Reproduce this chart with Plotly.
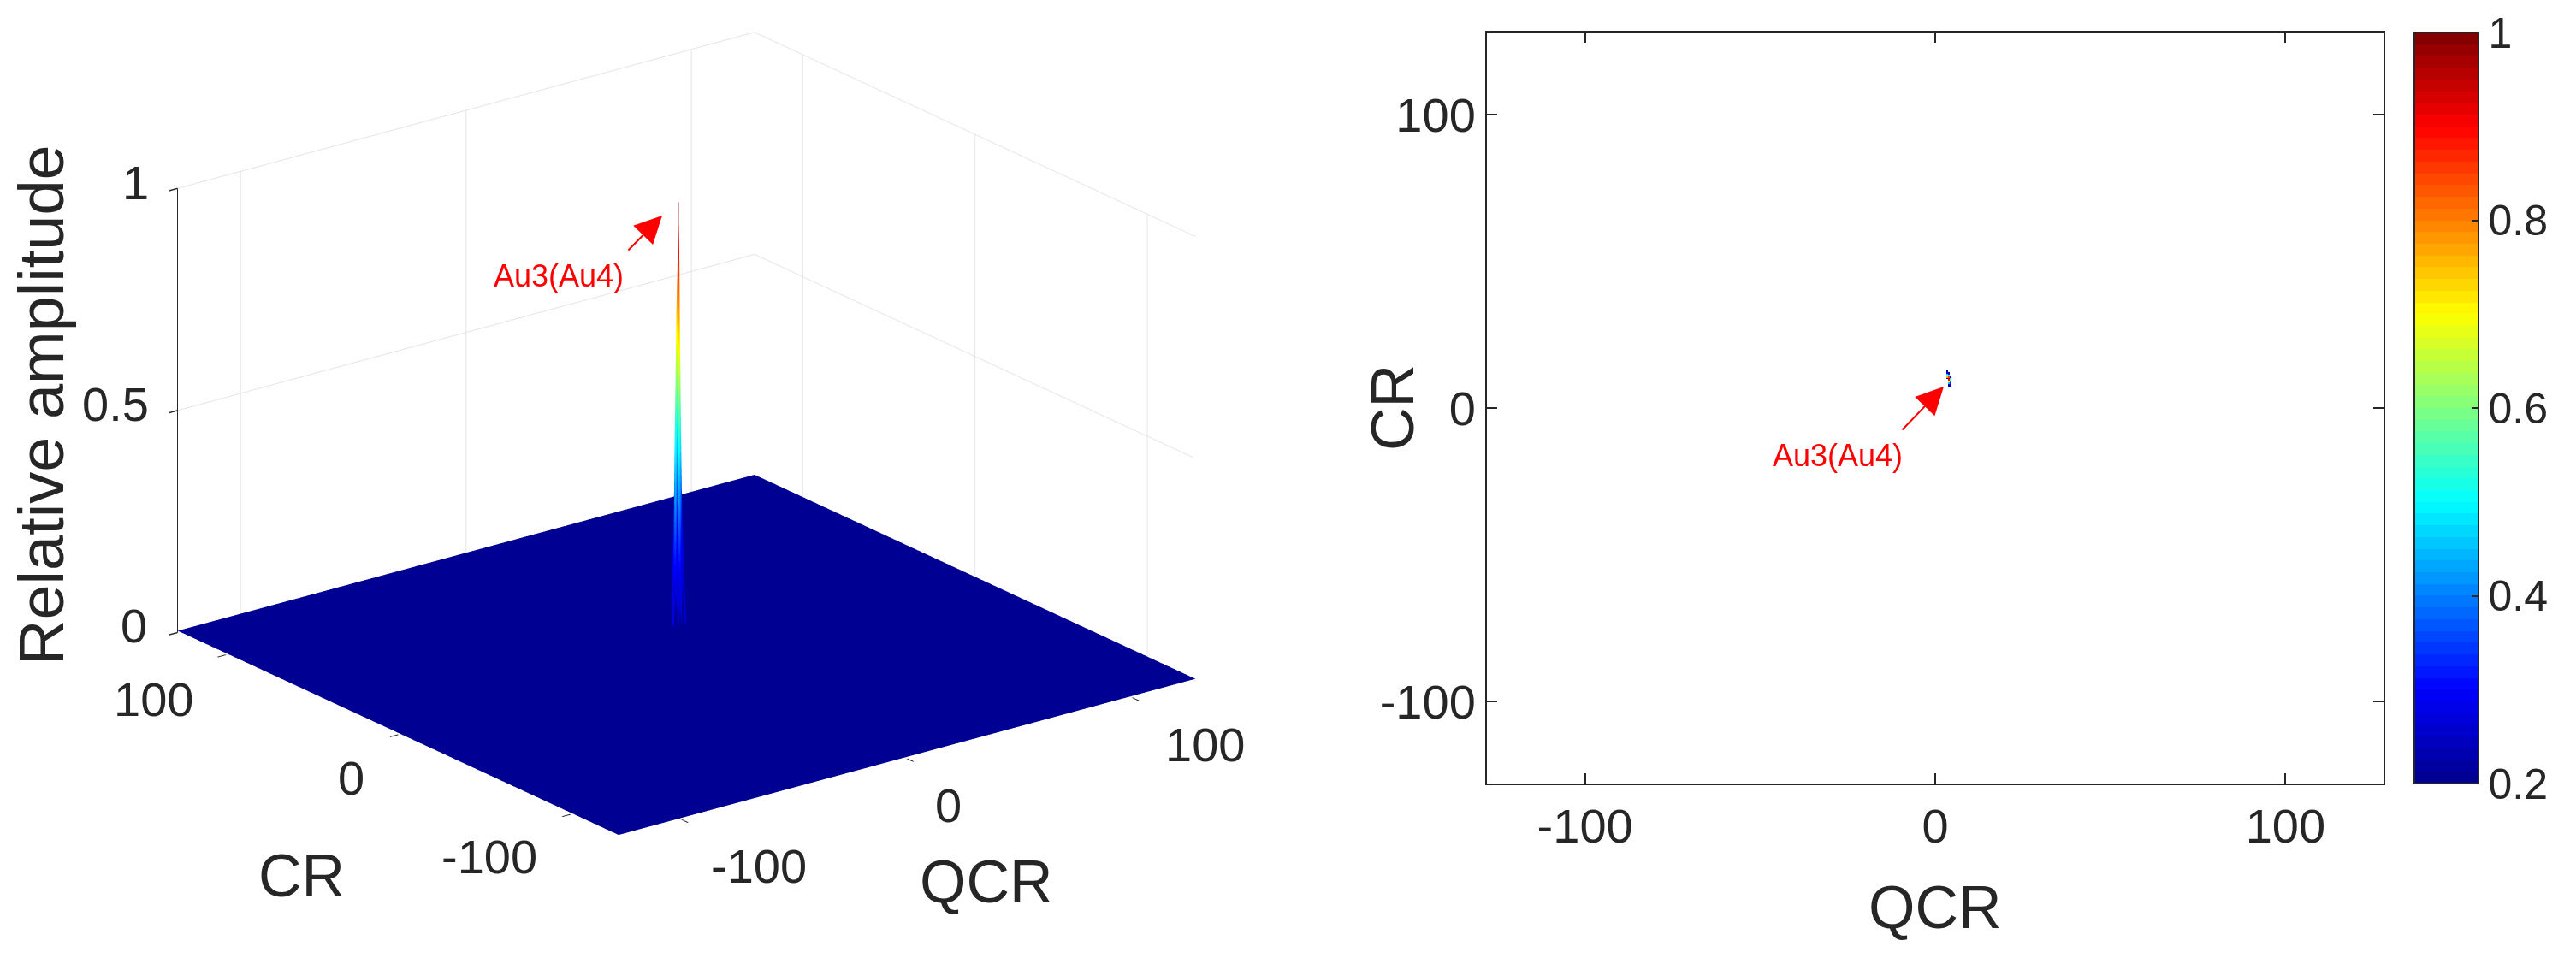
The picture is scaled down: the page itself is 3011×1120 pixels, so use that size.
import numpy as np
import plotly.graph_objects as go

W, H = 3011, 1120
INK = "#262626"

tick_vals = [-100, 0, 100]
tick_text = ["-100", "0", "100"]
amp_ticks = [0, 0.5, 1]
amp_text = ["0", "0.5", "1"]
cbar_ticks = [0.2, 0.4, 0.6, 0.8, 1]
cbar_text = ["0.2", "0.4", "0.6", "0.8", "1"]

qcr_peak = [2.0, 2.5, 3.0, 3.5, 4.0, 4.5, 5.0, 5.5, 6.0]
cr_peak = [14.0, 13.5, 13.0, 12.5, 12.0, 11.5, 11.0, 10.5, 10.0,
           9.5, 9.0, 8.5, 8.0, 7.5, 7.0, 6.5, 6.0]
amp_peak = [
    [0.00, 0.01, 0.02, 0.03, 0.03, 0.02, 0.01, 0.00, 0.00],
    [0.01, 0.02, 0.04, 0.06, 0.05, 0.03, 0.02, 0.01, 0.00],
    [0.01, 0.03, 0.07, 0.12, 0.09, 0.05, 0.03, 0.01, 0.00],
    [0.02, 0.04, 0.10, 0.22, 0.14, 0.07, 0.04, 0.02, 0.01],
    [0.02, 0.05, 0.12, 0.28, 0.22, 0.09, 0.05, 0.02, 0.01],
    [0.02, 0.05, 0.13, 0.45, 0.30, 0.12, 0.06, 0.03, 0.01],
    [0.02, 0.05, 0.14, 0.60, 0.50, 0.16, 0.07, 0.03, 0.01],
    [0.02, 0.05, 0.13, 0.75, 0.85, 0.30, 0.08, 0.03, 0.01],
    [0.01, 0.04, 0.12, 0.30, 1.00, 0.50, 0.10, 0.04, 0.02],
    [0.01, 0.03, 0.10, 0.16, 0.90, 0.60, 0.12, 0.05, 0.02],
    [0.01, 0.03, 0.07, 0.14, 0.70, 0.42, 0.13, 0.05, 0.02],
    [0.00, 0.02, 0.05, 0.12, 0.45, 0.32, 0.13, 0.05, 0.02],
    [0.00, 0.01, 0.04, 0.09, 0.28, 0.26, 0.12, 0.05, 0.02],
    [0.00, 0.01, 0.03, 0.06, 0.22, 0.22, 0.10, 0.04, 0.02],
    [0.00, 0.00, 0.02, 0.04, 0.12, 0.14, 0.07, 0.03, 0.01],
    [0.00, 0.00, 0.01, 0.03, 0.06, 0.07, 0.05, 0.02, 0.01],
    [0.00, 0.00, 0.01, 0.02, 0.03, 0.03, 0.02, 0.01, 0.00],
]
# thin core of the peak, too narrow for the surface grid alone
core_qcr = [4, 4, 4, 4, 4, 4, 4, 4, 4, 4, 4]
core_cr = [10, 10, 10, 10, 10, 10, 10, 10, 10, 10, 10]
core_amp = [0.02, 0.1, 0.2, 0.3, 0.4, 0.5, 0.6, 0.7, 0.8, 0.9, 1.0]
core_color = [0.24, 0.27, 0.3, 0.33, 0.4, 0.5, 0.6, 0.7, 0.8, 0.9, 1.0]
floor_level = 0.004
skirt_level = 0.27

# matlab jet, 64 flat bands
jet_pos = [0, 0.125, 0.375, 0.625, 0.875, 1]
jet_r = [0, 0, 0, 255, 255, 128]
jet_g = [0, 0, 255, 255, 0, 0]
jet_b = [140, 255, 255, 0, 0, 0]
jet = []
for i in range(64):
    t = (i + 0.5) / 64
    c = "rgb(%d,%d,%d)" % (np.interp(t, jet_pos, jet_r), np.interp(t, jet_pos, jet_g), np.interp(t, jet_pos, jet_b))
    jet += [[i / 64, c], [(i + 1) / 64, c]]


def px(x, y):
    return x / W, 1 - y / H


# peak table padded out to the edges of the floor
amp = np.array(amp_peak)
surf_x = [-128, 1.5] + qcr_peak + [6.5, 128]
surf_y = [128, 14.5] + cr_peak + [5.5, -128]
surf_z = np.pad(amp, 2, constant_values=floor_level)
# foot of the spike reads lighter than the floor in the reference
surf_c = np.where((surf_z >= 0.05) & (surf_z < skirt_level), skirt_level, surf_z)

# right panel only shows what is above the colour floor
map_z = np.where(amp >= 0.2, amp, np.nan)

fig = go.Figure()
fig.add_trace(go.Surface(x=surf_x, y=surf_y, z=surf_z, surfacecolor=surf_c, cmin=0.2, cmax=1, colorscale=jet,
                         showscale=False, hoverinfo="skip",
                         lighting=dict(ambient=1, diffuse=0, specular=0, roughness=1, fresnel=0),
                         scene="scene"))
fig.add_trace(go.Scatter3d(x=core_qcr, y=core_cr, z=core_amp, mode="lines", hoverinfo="skip", scene="scene",
                           line=dict(width=2, color=core_color, cmin=0.2, cmax=1, colorscale=jet)))
# z axis line at the left corner of the box
fig.add_trace(go.Scatter3d(x=[-128, -128], y=[128, 128], z=[0, 1], mode="lines", hoverinfo="skip", scene="scene",
                           line=dict(width=2, color=INK)))
fig.add_trace(go.Heatmap(x=qcr_peak, y=cr_peak, z=map_z, zmin=0.2, zmax=1, colorscale=jet,
                         xaxis="x", yaxis="y", hoverongaps=False,
                         colorbar=dict(x=2822 / W, xanchor="left", xpad=0, y=1 - 916 / H, yanchor="bottom", ypad=0,
                                       len=878 / H, lenmode="fraction", thickness=75, thicknessmode="pixels",
                                       outlinecolor=INK, outlinewidth=2, ticks="inside", ticklen=9,
                                       tickcolor=INK, tickwidth=2, tickvals=cbar_ticks, ticktext=cbar_text,
                                       tickfont=dict(size=50, color=INK))))

axis3d = dict(showbackground=False, showspikes=False, zeroline=False, showline=False, showticklabels=False,
              gridcolor="#e4e4e4", gridwidth=2, ticks="outside", ticklen=12, tickcolor=INK, tickwidth=3, title="")
scene_notes = []
z_shift = [(-51, 8), (-73, 7), (-49, 7)]
cr_shift = [(-95, -49), (-55, -51), (-84, -52)]
qcr_shift = [(90, -54), (48, -55), (85, -55)]
for v, t, s in zip(amp_ticks, amp_text, z_shift):
    scene_notes.append(dict(x=-128, y=128, z=v, text=t, xshift=s[0], yshift=s[1]))
for v, t, s in zip(tick_vals, tick_text, cr_shift):
    scene_notes.append(dict(x=-128, y=v, z=0, text=t, xshift=s[0], yshift=s[1]))
for v, t, s in zip(tick_vals, tick_text, qcr_shift):
    scene_notes.append(dict(x=v, y=-128, z=0, text=t, xshift=s[0], yshift=s[1]))
for n in scene_notes:
    n.update(showarrow=False, font=dict(size=56, color=INK))

k = 1.137
zoom = 1.671
fig.update_layout(
    width=W, height=H, margin=dict(l=0, r=0, t=0, b=0), paper_bgcolor="white", plot_bgcolor="white",
    font=dict(family="Liberation Sans", color=INK), showlegend=False,
    scene=dict(
        domain=dict(x=[0, 1605 / W], y=[1 - 1016 / H, 1]),
        aspectmode="manual", aspectratio=dict(x=zoom, y=zoom, z=0.654 * zoom),
        camera=dict(projection=dict(type="orthographic"), up=dict(x=0, y=0, z=1),
                    eye=dict(x=-0.568 * k, y=-0.743 * k, z=0.354 * k)),
        xaxis=dict(axis3d, range=[-128, 128], tickvals=tick_vals),
        yaxis=dict(axis3d, range=[-128, 128], tickvals=tick_vals),
        zaxis=dict(axis3d, range=[0, 1], tickvals=amp_ticks),
        annotations=scene_notes,
    ),
    xaxis=dict(domain=[1738 / W, 2786 / W], range=[-128, 128], tickvals=tick_vals, ticktext=tick_text,
               ticks="inside", ticklen=12, tickwidth=2, tickcolor=INK, showline=True, linewidth=2, linecolor=INK,
               mirror="ticks", showgrid=False, zeroline=False, tickfont=dict(size=56, color=INK), anchor="y"),
    yaxis=dict(domain=[1 - 916 / H, 1 - 38 / H], range=[-128, 128], tickvals=tick_vals, ticktext=tick_text,
               ticks="inside", ticklen=12, tickwidth=2, tickcolor=INK, showline=True, linewidth=2, linecolor=INK,
               mirror="ticks", showgrid=False, zeroline=False, tickfont=dict(size=56, color=INK), anchor="x"),
)

notes = [
    (48, 474, "Relative amplitude", 74, INK, -90),
    (352, 1024, "CR", 70, INK, 0),
    (1153, 1031, "QCR", 70, INK, 0),
    (1628, 477, "CR", 70, INK, -90),
    (2262, 1061, "QCR", 70, INK, 0),
    (653, 322, "Au3(Au4)", 36, "red", 0),
    (2148, 532, "Au3(Au4)", 36, "red", 0),
]
for x, y, text, size, color, angle in notes:
    ax_, ay_ = px(x, y)
    fig.add_annotation(x=ax_, y=ay_, xref="paper", yref="paper", text=text, showarrow=False, textangle=angle,
                       xanchor="center", yanchor="middle", font=dict(size=size, color=color))

arrows = [(733, 294, 774, 252), (2222, 504, 2272, 452)]
for x0, y0, x1, y1 in arrows:
    ax_, ay_ = px(x1, y1)
    fig.add_annotation(x=ax_, y=ay_, xref="paper", yref="paper", text="", showarrow=True, arrowhead=2, arrowsize=3.2,
                       arrowwidth=2, arrowcolor="red", ax=x0 - x1, ay=y0 - y1)

fig.write_html("out.html", config={"displayModeBar": False}, post_script="document.body.style.margin='0';")
